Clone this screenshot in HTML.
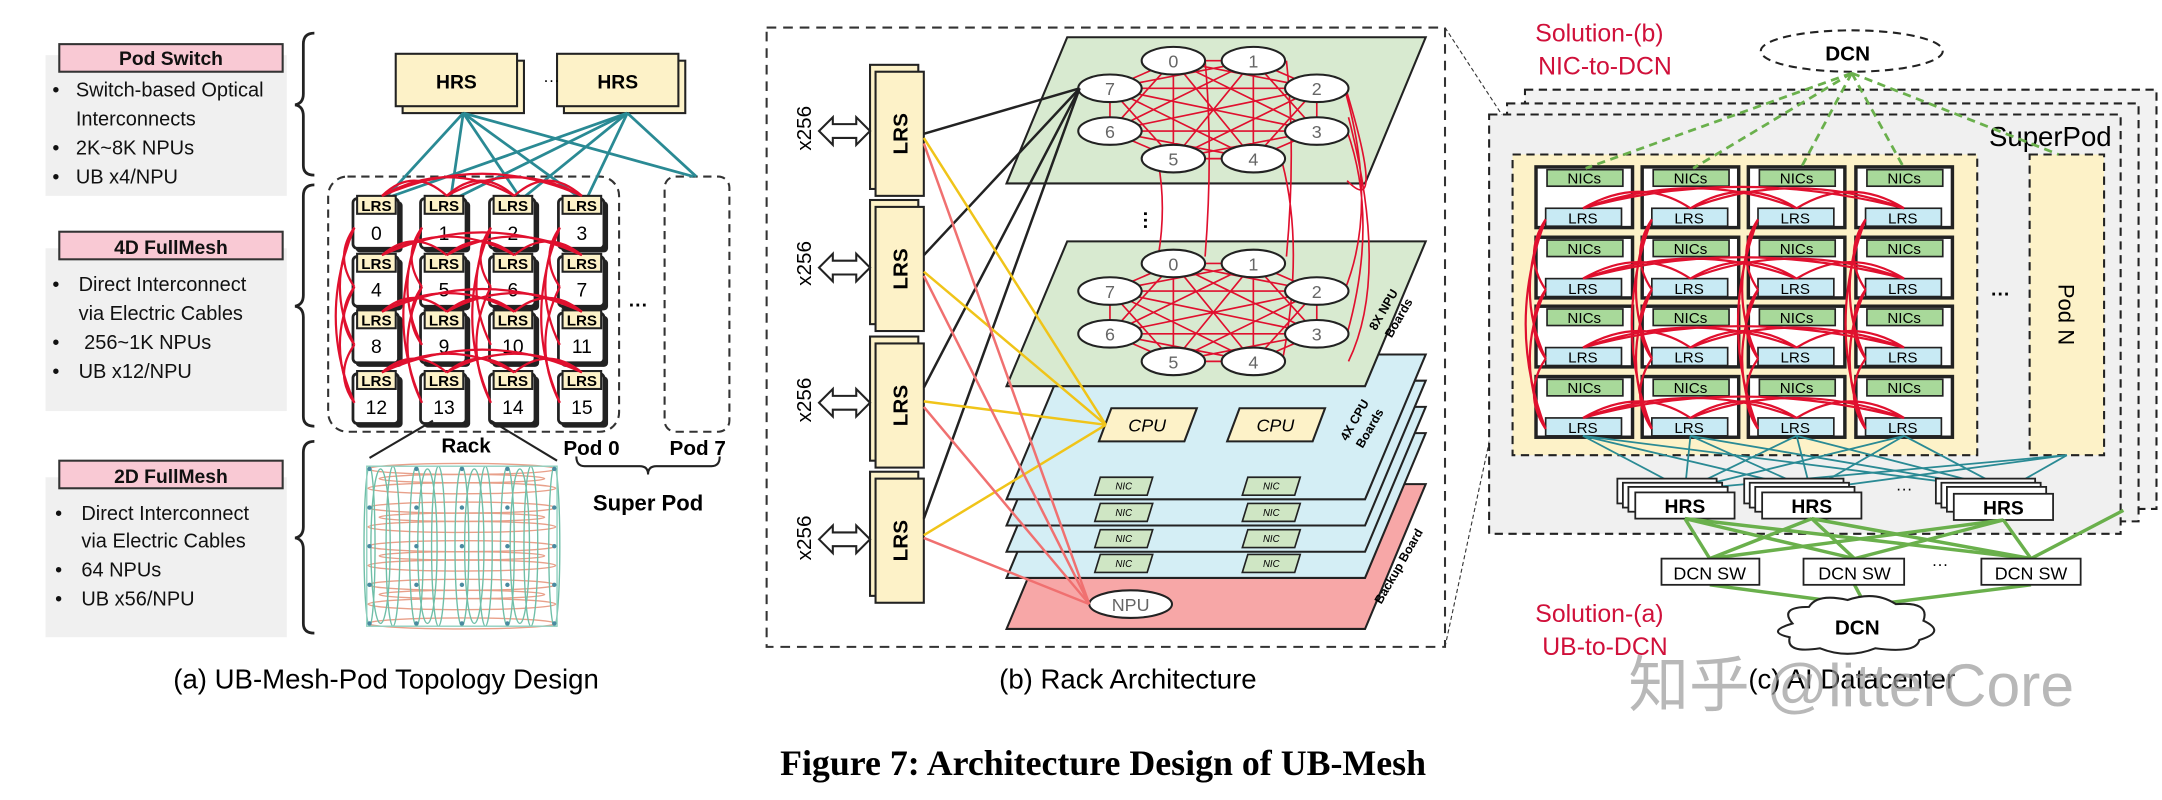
<!DOCTYPE html>
<html><head><meta charset="utf-8"><style>
html,body{margin:0;padding:0;background:#fff;}
svg{display:block;}
text{font-family:"Liberation Sans","Noto Sans CJK SC",sans-serif;}
</style></head><body>
<svg width="2162" height="800" viewBox="0 0 1568 580" preserveAspectRatio="none" xmlns="http://www.w3.org/2000/svg">
<!-- ============ PANEL A ============ -->
<g font-size="14.5" fill="#111">
<rect x="33" y="40" width="175" height="102" fill="#f0f0f0"/>
<rect x="43" y="32" width="162" height="20" fill="#f9c9d4" stroke="#333" stroke-width="1.5"/>
<text x="124" y="47" text-anchor="middle" font-weight="bold" font-size="14">Pod Switch</text>
<text x="38" y="70">•</text><text x="55" y="70">Switch-based Optical</text>
<text x="55" y="91">Interconnects</text>
<text x="38" y="112">•</text><text x="55" y="112">2K~8K NPUs</text>
<text x="38" y="133">•</text><text x="55" y="133">UB x4/NPU</text>

<rect x="33" y="180" width="175" height="118" fill="#f0f0f0"/>
<rect x="43" y="168" width="162" height="20" fill="#f9c9d4" stroke="#333" stroke-width="1.5"/>
<text x="124" y="184" text-anchor="middle" font-weight="bold" font-size="14">4D FullMesh</text>
<text x="38" y="211">•</text><text x="57" y="211">Direct Interconnect</text>
<text x="57" y="232">via Electric Cables</text>
<text x="38" y="253">•</text><text x="61" y="253">256~1K NPUs</text>
<text x="38" y="274">•</text><text x="57" y="274">UB x12/NPU</text>

<rect x="33" y="346" width="175" height="116" fill="#f0f0f0"/>
<rect x="43" y="334" width="162" height="20" fill="#f9c9d4" stroke="#333" stroke-width="1.5"/>
<text x="124" y="350" text-anchor="middle" font-weight="bold" font-size="14">2D FullMesh</text>
<text x="40" y="377">•</text><text x="59" y="377">Direct Interconnect</text>
<text x="59" y="397">via Electric Cables</text>
<text x="40" y="418">•</text><text x="59" y="418">64 NPUs</text>
<text x="40" y="439">•</text><text x="59" y="439">UB x56/NPU</text>
</g>
<!-- braces -->
<g fill="none" stroke="#222" stroke-width="2">
<path d="M228,24 Q220,24 220,32 L220,68 Q220,75 214,76 Q220,77 220,84 L220,120 Q220,127 228,127"/>
<path d="M228,134 Q220,134 220,142 L220,214 Q220,221 214,222 Q220,223 220,230 L220,302 Q220,309 228,309"/>
<path d="M228,320 Q220,320 220,328 L220,382 Q220,389 214,390 Q220,391 220,398 L220,452 Q220,459 228,459"/>
</g>
<!-- HRS -->
<g>
<rect x="292" y="44" width="88" height="38" fill="#fdf2c8" stroke="#222" stroke-width="1.5"/>
<rect x="287" y="39" width="88" height="38" fill="#fdf2c8" stroke="#222" stroke-width="1.5"/>
<text x="331" y="64" text-anchor="middle" font-weight="bold" font-size="14">HRS</text>
<rect x="409" y="44" width="88" height="38" fill="#fdf2c8" stroke="#222" stroke-width="1.5"/>
<rect x="404" y="39" width="88" height="38" fill="#fdf2c8" stroke="#222" stroke-width="1.5"/>
<text x="448" y="64" text-anchor="middle" font-weight="bold" font-size="14">HRS</text>
<text x="394" y="62" font-size="12">···</text>
</g>
<!-- pods dashed -->
<rect x="238" y="128" width="211" height="185" rx="14" fill="none" stroke="#333" stroke-width="1.5" stroke-dasharray="6,4"/>
<rect x="482" y="128" width="47" height="185" rx="8" fill="none" stroke="#333" stroke-width="1.5" stroke-dasharray="6,4"/>
<text x="456" y="226" font-size="14" font-weight="bold">···</text>
<!-- teal -->
<g stroke="#2a8a94" stroke-width="2">
<line x1="336" y1="82" x2="280" y2="143"/><line x1="336" y1="82" x2="327" y2="143"/><line x1="336" y1="82" x2="377" y2="143"/><line x1="336" y1="82" x2="420" y2="143"/><line x1="336" y1="82" x2="503" y2="128"/>
<line x1="455" y1="82" x2="282" y2="143"/><line x1="455" y1="82" x2="332" y2="143"/><line x1="455" y1="82" x2="380" y2="143"/><line x1="455" y1="82" x2="426" y2="143"/><line x1="455" y1="82" x2="505" y2="128"/>
</g>
<!-- LRS grid -->
<defs>
<g id="lrs">
<rect x="-15" y="0" width="34" height="37" rx="3" fill="#222"/>
<rect x="-17" y="-2" width="33" height="36" rx="3" fill="#fff" stroke="#222" stroke-width="2"/>
<rect x="-14" y="-4" width="28" height="13" fill="#fdf2c8" stroke="#222" stroke-width="1.5"/>
<text x="0" y="7" text-anchor="middle" font-weight="bold" font-size="11">LRS</text>
</g>
</defs>
<g font-size="14">
<use href="#lrs" x="273" y="146"/><text x="273" y="174" text-anchor="middle">0</text>
<use href="#lrs" x="322" y="146"/><text x="322" y="174" text-anchor="middle">1</text>
<use href="#lrs" x="372" y="146"/><text x="372" y="174" text-anchor="middle">2</text>
<use href="#lrs" x="422" y="146"/><text x="422" y="174" text-anchor="middle">3</text>
<use href="#lrs" x="273" y="188"/><text x="273" y="215" text-anchor="middle">4</text>
<use href="#lrs" x="322" y="188"/><text x="322" y="215" text-anchor="middle">5</text>
<use href="#lrs" x="372" y="188"/><text x="372" y="215" text-anchor="middle">6</text>
<use href="#lrs" x="422" y="188"/><text x="422" y="215" text-anchor="middle">7</text>
<use href="#lrs" x="273" y="229"/><text x="273" y="256" text-anchor="middle">8</text>
<use href="#lrs" x="322" y="229"/><text x="322" y="256" text-anchor="middle">9</text>
<use href="#lrs" x="372" y="229"/><text x="372" y="256" text-anchor="middle">10</text>
<use href="#lrs" x="422" y="229"/><text x="422" y="256" text-anchor="middle">11</text>
<use href="#lrs" x="273" y="273"/><text x="273" y="300" text-anchor="middle">12</text>
<use href="#lrs" x="322" y="273"/><text x="322" y="300" text-anchor="middle">13</text>
<use href="#lrs" x="372" y="273"/><text x="372" y="300" text-anchor="middle">14</text>
<use href="#lrs" x="422" y="273"/><text x="422" y="300" text-anchor="middle">15</text>
</g>
<!-- red curves A -->
<g fill="none" stroke="#e0102e" stroke-width="1.6">
<path d="M277,142 Q300,120 324,142"/><path d="M277,142 Q325,115 373,142"/><path d="M277,142 Q350,110 422,142"/><path d="M324,142 Q348,120 373,142"/><path d="M324,142 Q373,115 422,142"/><path d="M373,142 Q397,120 422,142"/>
<path d="M277,185 Q300,165 324,185"/><path d="M277,185 Q325,158 373,185"/><path d="M277,185 Q350,152 422,185"/><path d="M324,185 Q348,165 373,185"/><path d="M324,185 Q373,158 422,185"/><path d="M373,185 Q397,165 422,185"/>
<path d="M277,226 Q300,206 324,226"/><path d="M277,226 Q325,199 373,226"/><path d="M277,226 Q350,193 422,226"/><path d="M324,226 Q348,206 373,226"/><path d="M324,226 Q373,199 422,226"/><path d="M373,226 Q397,206 422,226"/>
<path d="M277,270 Q300,250 324,270"/><path d="M277,270 Q325,243 373,270"/><path d="M277,270 Q350,237 422,270"/><path d="M324,270 Q348,250 373,270"/><path d="M324,270 Q373,243 422,270"/><path d="M373,270 Q397,250 422,270"/>
<path d="M257,165 Q242,186 257,208"/><path d="M257,165 Q236,208 257,250"/><path d="M257,165 Q230,230 257,292"/><path d="M257,208 Q242,229 257,250"/><path d="M257,208 Q236,250 257,292"/><path d="M257,250 Q242,271 257,292"/>
<path d="M306,165 Q291,186 306,208"/><path d="M306,165 Q285,208 306,250"/><path d="M306,165 Q279,230 306,292"/><path d="M306,208 Q291,229 306,250"/><path d="M306,208 Q285,250 306,292"/>
<path d="M356,165 Q341,186 356,208"/><path d="M356,165 Q335,208 356,250"/><path d="M356,165 Q329,230 356,292"/><path d="M356,208 Q335,250 356,292"/>
<path d="M406,165 Q391,186 406,208"/><path d="M406,165 Q385,208 406,250"/><path d="M406,165 Q379,230 406,292"/><path d="M406,208 Q385,250 406,292"/>
</g>
<!-- labels below pod -->
<line x1="314" y1="305" x2="268" y2="332" stroke="#222" stroke-width="1.5"/>
<line x1="356" y1="305" x2="404" y2="334" stroke="#222" stroke-width="1.5"/>
<text x="338" y="328" text-anchor="middle" font-weight="bold" font-size="15">Rack</text>
<text x="429" y="330" text-anchor="middle" font-weight="bold" font-size="15">Pod 0</text>
<text x="506" y="330" text-anchor="middle" font-weight="bold" font-size="15">Pod 7</text>
<path d="M418,331 Q418,338 424,338 L464,338 Q470,338 470,344 Q470,338 476,338 L516,338 Q522,338 522,331" fill="none" stroke="#222" stroke-width="1.5"/>
<text x="470" y="370" text-anchor="middle" font-weight="bold" font-size="16">Super Pod</text>
<!-- 2D mesh -->
<g fill="none" stroke-width="1">
<g stroke="#e8a08a">
<ellipse cx="335" cy="340" rx="68" ry="4"/><ellipse cx="335" cy="354" rx="68" ry="4"/><ellipse cx="335" cy="368" rx="68" ry="4"/><ellipse cx="335" cy="382" rx="68" ry="4"/><ellipse cx="335" cy="396" rx="68" ry="4"/><ellipse cx="335" cy="410" rx="68" ry="4"/><ellipse cx="335" cy="424" rx="68" ry="4"/><ellipse cx="335" cy="438" rx="68" ry="4"/><ellipse cx="335" cy="452" rx="68" ry="4"/>
<ellipse cx="335" cy="347" rx="60" ry="3"/><ellipse cx="335" cy="375" rx="60" ry="3"/><ellipse cx="335" cy="403" rx="60" ry="3"/><ellipse cx="335" cy="431" rx="60" ry="3"/>
</g>
<g stroke="#6fbfa8">
<ellipse cx="268" cy="396" rx="4" ry="58"/><ellipse cx="285" cy="396" rx="5" ry="58"/><ellipse cx="302" cy="396" rx="5" ry="58"/><ellipse cx="318" cy="396" rx="5" ry="58"/><ellipse cx="335" cy="396" rx="5" ry="58"/><ellipse cx="352" cy="396" rx="5" ry="58"/><ellipse cx="368" cy="396" rx="5" ry="58"/><ellipse cx="385" cy="396" rx="5" ry="58"/><ellipse cx="402" cy="396" rx="4" ry="58"/>
<ellipse cx="276" cy="396" rx="7" ry="56"/><ellipse cx="310" cy="396" rx="7" ry="56"/><ellipse cx="344" cy="396" rx="7" ry="56"/><ellipse cx="377" cy="396" rx="7" ry="56"/>
<rect x="266" y="338" width="138" height="116" stroke="#8fd0bf"/>
</g>
</g>
<g fill="#4a8aa0">
<circle cx="268" cy="340" r="1.6"/><circle cx="302" cy="340" r="1.6"/><circle cx="335" cy="340" r="1.6"/><circle cx="368" cy="340" r="1.6"/><circle cx="402" cy="340" r="1.6"/>
<circle cx="268" cy="368" r="1.6"/><circle cx="302" cy="368" r="1.6"/><circle cx="335" cy="368" r="1.6"/><circle cx="368" cy="368" r="1.6"/><circle cx="402" cy="368" r="1.6"/>
<circle cx="268" cy="396" r="1.6"/><circle cx="302" cy="396" r="1.6"/><circle cx="335" cy="396" r="1.6"/><circle cx="368" cy="396" r="1.6"/><circle cx="402" cy="396" r="1.6"/>
<circle cx="268" cy="424" r="1.6"/><circle cx="302" cy="424" r="1.6"/><circle cx="335" cy="424" r="1.6"/><circle cx="368" cy="424" r="1.6"/><circle cx="402" cy="424" r="1.6"/>
<circle cx="268" cy="452" r="1.6"/><circle cx="302" cy="452" r="1.6"/><circle cx="335" cy="452" r="1.6"/><circle cx="368" cy="452" r="1.6"/><circle cx="402" cy="452" r="1.6"/>
</g>
<text x="280" y="499" text-anchor="middle" font-size="20">(a) UB-Mesh-Pod Topology Design</text>

<!-- ============ PANEL B ============ -->
<rect x="556" y="20" width="492" height="449" fill="none" stroke="#333" stroke-width="1.5" stroke-dasharray="7,5"/>
<g>
<rect x="631" y="47" width="35" height="90" fill="#fdf2c8" stroke="#222" stroke-width="1.5"/>
<rect x="635" y="52" width="35" height="90" fill="#fdf2c8" stroke="#222" stroke-width="1.5"/>
<rect x="631" y="145" width="35" height="90" fill="#fdf2c8" stroke="#222" stroke-width="1.5"/>
<rect x="635" y="150" width="35" height="90" fill="#fdf2c8" stroke="#222" stroke-width="1.5"/>
<rect x="631" y="244" width="35" height="90" fill="#fdf2c8" stroke="#222" stroke-width="1.5"/>
<rect x="635" y="249" width="35" height="90" fill="#fdf2c8" stroke="#222" stroke-width="1.5"/>
<rect x="631" y="342" width="35" height="90" fill="#fdf2c8" stroke="#222" stroke-width="1.5"/>
<rect x="635" y="347" width="35" height="90" fill="#fdf2c8" stroke="#222" stroke-width="1.5"/>
<g font-weight="bold" font-size="15">
<text transform="translate(658,97) rotate(-90)" text-anchor="middle">LRS</text>
<text transform="translate(658,195) rotate(-90)" text-anchor="middle">LRS</text>
<text transform="translate(658,294) rotate(-90)" text-anchor="middle">LRS</text>
<text transform="translate(658,392) rotate(-90)" text-anchor="middle">LRS</text>
</g>
<g font-size="15">
<text transform="translate(588,93) rotate(-90)" text-anchor="middle">x256</text>
<text transform="translate(588,191) rotate(-90)" text-anchor="middle">x256</text>
<text transform="translate(588,290) rotate(-90)" text-anchor="middle">x256</text>
<text transform="translate(588,390) rotate(-90)" text-anchor="middle">x256</text>
</g>
<g fill="#fff" stroke="#222" stroke-width="1.5">
<path d="M594,95 L604,85 L604,90 L621,90 L621,85 L631,95 L621,105 L621,100 L604,100 L604,105 Z"/>
<path d="M594,194 L604,184 L604,189 L621,189 L621,184 L631,194 L621,204 L621,199 L604,199 L604,204 Z"/>
<path d="M594,292 L604,282 L604,287 L621,287 L621,282 L631,292 L621,302 L621,297 L604,297 L604,302 Z"/>
<path d="M594,391 L604,381 L604,386 L621,386 L621,381 L631,391 L621,401 L621,396 L604,396 L604,401 Z"/>
</g>
</g>
<!-- boards (back to front) -->
<g stroke="#222" stroke-width="1.5">
<polygon points="730,456 774,351 1034,351 990,456" fill="#f7a7a7"/>
<polygon points="730,419 774,314 1034,314 990,419" fill="#d4eef5"/>
<polygon points="730,400 774,295 1034,295 990,400" fill="#d4eef5"/>
<polygon points="730,381 774,276 1034,276 990,381" fill="#d4eef5"/>
<polygon points="730,362 774,257 1034,257 990,362" fill="#d4eef5"/>
<polygon points="730,280 774,175 1034,175 990,280" fill="#d8ead0"/>
<polygon points="730,133 774,27 1034,27 990,133" fill="#d8ead0"/>
</g>
<!-- CPUs, NICs -->
<g stroke="#222" stroke-width="1.5">
<polygon points="797,320 806,296 868,296 859,320" fill="#fdf2c8"/>
<polygon points="890,320 899,296 961,296 952,320" fill="#fdf2c8"/>
<g fill="#cfe6c4" stroke-width="1.2">
<polygon points="794,359 798,346 836,346 832,359"/><polygon points="901,359 905,346 943,346 939,359"/>
<polygon points="794,378 798,365 836,365 832,378"/><polygon points="901,378 905,365 943,365 939,378"/>
<polygon points="794,397 798,384 836,384 832,397"/><polygon points="901,397 905,384 943,384 939,397"/>
<polygon points="794,415 798,402 836,402 832,415"/><polygon points="901,415 905,402 943,402 939,415"/>
</g>
</g>
<g font-size="13" font-style="italic" text-anchor="middle"><text x="832" y="313">CPU</text><text x="925" y="313">CPU</text></g>
<g font-size="7" font-style="italic" text-anchor="middle">
<text x="815" y="355">NIC</text><text x="922" y="355">NIC</text><text x="815" y="374">NIC</text><text x="922" y="374">NIC</text>
<text x="815" y="393">NIC</text><text x="922" y="393">NIC</text><text x="815" y="411">NIC</text><text x="922" y="411">NIC</text>
</g>
<g font-weight="bold" font-size="9" text-anchor="middle">
<text transform="translate(1006,226) rotate(-60)">8X NPU</text><text transform="translate(1017,232) rotate(-60)">Boards</text>
<text transform="translate(985,306) rotate(-60)">4X CPU</text><text transform="translate(996,312) rotate(-60)">Boards</text>
<text transform="translate(1017,412) rotate(-60)">Backup Board</text>
</g>
<!-- red mesh edges -->
<g stroke="#e0102e" stroke-width="1.2" fill="none">
<path d="M851,44 L909,44 L955,64 L955,95 L909,115 L851,115 L805,95 L805,64 Z M851,44 L955,64 M851,44 L955,95 M851,44 L909,115 M851,44 L851,115 M851,44 L805,95 M909,44 L955,95 M909,44 L909,115 M909,44 L851,115 M909,44 L805,95 M909,44 L805,64 M955,64 L909,115 M955,64 L851,115 M955,64 L805,95 M955,64 L805,64 M955,95 L851,115 M955,95 L805,95 M955,95 L805,64 M909,115 L805,95 M909,115 L805,64 M851,115 L805,64 M828,64 L932,64 M828,95 L932,95"/>
<path transform="translate(0,147)" d="M851,44 L909,44 L955,64 L955,95 L909,115 L851,115 L805,95 L805,64 Z M851,44 L955,64 M851,44 L955,95 M851,44 L909,115 M851,44 L851,115 M851,44 L805,95 M909,44 L955,95 M909,44 L909,115 M909,44 L851,115 M909,44 L805,95 M909,44 L805,64 M955,64 L909,115 M955,64 L851,115 M955,64 L805,95 M955,64 L805,64 M955,95 L851,115 M955,95 L805,95 M955,95 L805,64 M909,115 L805,95 M909,115 L805,64 M851,115 L805,64 M828,64 L932,64 M828,95 L932,95"/>
<path d="M840,118 Q846,150 840,186 M874,44 Q880,110 874,186 M933,44 Q940,110 933,186 M930,118 Q946,180 930,262 M975,64 Q1000,150 975,211 M977,95 Q1000,160 977,242 M976,64 Q1005,160 977,131 M978,85 Q1008,200 978,262"/>
</g>
<!-- ellipses -->
<g fill="#fff" stroke="#222" stroke-width="1.5">
<ellipse cx="851" cy="44" rx="23" ry="10"/><ellipse cx="909" cy="44" rx="23" ry="10"/><ellipse cx="805" cy="64" rx="23" ry="10"/><ellipse cx="955" cy="64" rx="23" ry="10"/><ellipse cx="805" cy="95" rx="23" ry="10"/><ellipse cx="955" cy="95" rx="23" ry="10"/><ellipse cx="851" cy="115" rx="23" ry="10"/><ellipse cx="909" cy="115" rx="23" ry="10"/>
<ellipse cx="851" cy="191" rx="23" ry="10"/><ellipse cx="909" cy="191" rx="23" ry="10"/><ellipse cx="805" cy="211" rx="23" ry="10"/><ellipse cx="955" cy="211" rx="23" ry="10"/><ellipse cx="805" cy="242" rx="23" ry="10"/><ellipse cx="955" cy="242" rx="23" ry="10"/><ellipse cx="851" cy="262" rx="23" ry="10"/><ellipse cx="909" cy="262" rx="23" ry="10"/>
<ellipse cx="820" cy="438" rx="30" ry="10"/>
</g>
<g font-size="13" fill="#666" text-anchor="middle">
<text x="851" y="49">0</text><text x="909" y="49">1</text><text x="805" y="69">7</text><text x="955" y="69">2</text><text x="805" y="100">6</text><text x="955" y="100">3</text><text x="851" y="120">5</text><text x="909" y="120">4</text>
<text x="851" y="196">0</text><text x="909" y="196">1</text><text x="805" y="216">7</text><text x="955" y="216">2</text><text x="805" y="247">6</text><text x="955" y="247">3</text><text x="851" y="267">5</text><text x="909" y="267">4</text>
<text x="820" y="443">NPU</text>
</g>
<text x="826" y="160" font-size="14" font-weight="bold" transform="rotate(90,826,160)" text-anchor="middle">···</text>
<!-- LRS links -->
<g stroke-width="1.8">
<g stroke="#222"><line x1="670" y1="97" x2="783" y2="64"/><line x1="670" y1="185" x2="783" y2="64"/><line x1="670" y1="281" x2="783" y2="64"/><line x1="670" y1="376" x2="783" y2="64"/></g>
<g stroke="#f0c419"><line x1="670" y1="100" x2="802" y2="308"/><line x1="670" y1="197" x2="802" y2="308"/><line x1="670" y1="291" x2="802" y2="308"/><line x1="670" y1="388" x2="802" y2="308"/></g>
<g stroke="#f07070"><line x1="670" y1="104" x2="790" y2="438"/><line x1="670" y1="200" x2="790" y2="438"/><line x1="670" y1="295" x2="790" y2="438"/><line x1="670" y1="390" x2="790" y2="438"/></g>
</g>
<text x="818" y="499" text-anchor="middle" font-size="20">(b) Rack  Architecture</text>
<text x="800" y="562" text-anchor="middle" font-size="26" font-weight="bold" style="font-family:'Liberation Serif','DejaVu Serif',serif">Figure 7:  Architecture Design of UB-Mesh</text>

<!-- ============ PANEL C ============ -->
<g stroke="#333" stroke-width="0.8" stroke-dasharray="3,2"><line x1="1048" y1="20" x2="1112" y2="118"/><line x1="1048" y1="469" x2="1100" y2="228"/></g>
<text x="1160" y="30" text-anchor="middle" font-size="18" fill="#d0103a">Solution-(b)</text>
<text x="1164" y="54" text-anchor="middle" font-size="18" fill="#d0103a">NIC-to-DCN</text>
<g stroke="#222" stroke-width="1.5" stroke-dasharray="6,4">
<rect x="1106" y="65" width="458" height="304" fill="#f2f2f2"/>
<rect x="1093" y="75" width="458" height="303" fill="#f2f2f2"/>
<rect x="1080" y="83" width="458" height="304" fill="#f0f0f0"/>
</g>
<ellipse cx="1343" cy="37" rx="66" ry="15" fill="#fff" stroke="#222" stroke-width="1.5" stroke-dasharray="6,4"/>
<text x="1340" y="44" text-anchor="middle" font-weight="bold" font-size="15">DCN</text>
<text x="1487" y="106" text-anchor="middle" font-size="20">SuperPod</text>
<rect x="1097" y="112" width="337" height="218" fill="#fdf2c8" stroke="#222" stroke-width="1.5" stroke-dasharray="6,4"/>
<rect x="1472" y="112" width="54" height="218" fill="#fdf2c8" stroke="#222" stroke-width="1.5" stroke-dasharray="6,4"/>
<text transform="translate(1493,228) rotate(90)" text-anchor="middle" font-size="16">Pod N</text>
<text x="1451" y="218" text-anchor="middle" font-size="14" font-weight="bold">···</text>
<defs>
<g id="cell">
<rect x="0" y="0" width="70" height="44" fill="#fff" stroke="#222" stroke-width="2.5"/>
<rect x="8" y="2" width="55" height="12" fill="#a8d99a" stroke="#222" stroke-width="1.2"/>
<text x="35" y="12" text-anchor="middle" font-size="11">NICs</text>
<rect x="7" y="30" width="55" height="13" fill="#c8eaf4" stroke="#222" stroke-width="1.2"/>
<text x="34" y="41" text-anchor="middle" font-size="11">LRS</text>
</g>
</defs>
<use href="#cell" x="1114" y="121"/><use href="#cell" x="1191" y="121"/><use href="#cell" x="1268" y="121"/><use href="#cell" x="1346" y="121"/>
<use href="#cell" x="1114" y="172"/><use href="#cell" x="1191" y="172"/><use href="#cell" x="1268" y="172"/><use href="#cell" x="1346" y="172"/>
<use href="#cell" x="1114" y="222"/><use href="#cell" x="1191" y="222"/><use href="#cell" x="1268" y="222"/><use href="#cell" x="1346" y="222"/>
<use href="#cell" x="1114" y="273"/><use href="#cell" x="1191" y="273"/><use href="#cell" x="1268" y="273"/><use href="#cell" x="1346" y="273"/>
<!-- red arcs C -->
<g fill="none" stroke="#e0102e" stroke-width="1.6">
<path d="M1148,151 Q1190,127 1226,151 M1148,151 Q1230,122 1303,151 M1148,151 Q1260,120 1381,151 M1226,151 Q1265,127 1303,151 M1226,151 Q1300,122 1381,151 M1303,151 Q1342,127 1381,151"/>
<path transform="translate(0,51)" d="M1148,151 Q1190,127 1226,151 M1148,151 Q1230,122 1303,151 M1148,151 Q1260,120 1381,151 M1226,151 Q1265,127 1303,151 M1226,151 Q1300,122 1381,151 M1303,151 Q1342,127 1381,151"/>
<path transform="translate(0,101)" d="M1148,151 Q1190,127 1226,151 M1148,151 Q1230,122 1303,151 M1148,151 Q1260,120 1381,151 M1226,151 Q1265,127 1303,151 M1226,151 Q1300,122 1381,151 M1303,151 Q1342,127 1381,151"/>
<path transform="translate(0,152)" d="M1148,151 Q1190,127 1226,151 M1148,151 Q1230,122 1303,151 M1148,151 Q1260,120 1381,151 M1226,151 Q1265,127 1303,151 M1226,151 Q1300,122 1381,151 M1303,151 Q1342,127 1381,151"/>
<path d="M1121,159 Q1104,185 1121,210 M1121,159 Q1098,210 1121,260 M1121,159 Q1092,235 1121,311 M1121,210 Q1104,235 1121,260 M1121,210 Q1098,260 1121,311 M1121,260 Q1104,285 1121,311"/>
<path transform="translate(77,0)" d="M1121,159 Q1104,185 1121,210 M1121,159 Q1098,210 1121,260 M1121,159 Q1092,235 1121,311 M1121,210 Q1104,235 1121,260 M1121,210 Q1098,260 1121,311 M1121,260 Q1104,285 1121,311"/>
<path transform="translate(154,0)" d="M1121,159 Q1104,185 1121,210 M1121,159 Q1098,210 1121,260 M1121,159 Q1092,235 1121,311 M1121,210 Q1104,235 1121,260 M1121,210 Q1098,260 1121,311 M1121,260 Q1104,285 1121,311"/>
<path transform="translate(232,0)" d="M1121,159 Q1104,185 1121,210 M1121,159 Q1098,210 1121,260 M1121,159 Q1092,235 1121,311 M1121,210 Q1104,235 1121,260 M1121,210 Q1098,260 1121,311 M1121,260 Q1104,285 1121,311"/>
</g>
<!-- green dashed -->
<g stroke="#6ab04c" stroke-width="2" stroke-dasharray="6,4">
<line x1="1343" y1="53" x2="1150" y2="122"/><line x1="1343" y1="53" x2="1228" y2="122"/><line x1="1343" y1="53" x2="1306" y2="122"/><line x1="1343" y1="53" x2="1381" y2="122"/><line x1="1343" y1="53" x2="1493" y2="112"/>
</g>
<!-- teal C -->
<g stroke="#2a8a94" stroke-width="1.3">
<line x1="1148" y1="316" x2="1222" y2="355"/><line x1="1148" y1="316" x2="1313" y2="355"/><line x1="1148" y1="316" x2="1455" y2="355"/>
<line x1="1226" y1="316" x2="1222" y2="355"/><line x1="1226" y1="316" x2="1313" y2="355"/><line x1="1226" y1="316" x2="1455" y2="355"/>
<line x1="1303" y1="316" x2="1222" y2="355"/><line x1="1303" y1="316" x2="1313" y2="355"/><line x1="1303" y1="316" x2="1455" y2="355"/>
<line x1="1381" y1="316" x2="1222" y2="355"/><line x1="1381" y1="316" x2="1313" y2="355"/><line x1="1381" y1="316" x2="1455" y2="355"/>
<line x1="1499" y1="330" x2="1222" y2="355"/><line x1="1499" y1="330" x2="1313" y2="355"/><line x1="1499" y1="330" x2="1455" y2="355"/>
</g>
<!-- HRS stacks -->
<g fill="#fff" stroke="#222" stroke-width="1.3">
<rect x="1173" y="347" width="72" height="18"/><rect x="1177" y="350" width="72" height="18"/><rect x="1181" y="353" width="72" height="18"/><rect x="1186" y="357" width="72" height="19"/>
<rect x="1265" y="347" width="72" height="18"/><rect x="1269" y="350" width="72" height="18"/><rect x="1273" y="353" width="72" height="18"/><rect x="1278" y="357" width="72" height="19"/>
<rect x="1404" y="347" width="72" height="18"/><rect x="1408" y="350" width="72" height="18"/><rect x="1412" y="353" width="72" height="18"/><rect x="1417" y="358" width="72" height="19"/>
</g>
<g font-weight="bold" font-size="14" text-anchor="middle"><text x="1222" y="372">HRS</text><text x="1314" y="372">HRS</text><text x="1453" y="373">HRS</text></g>
<text x="1381" y="358" text-anchor="middle" font-size="12">···</text>
<!-- green solid -->
<g stroke="#6ab04c" stroke-width="2.5">
<line x1="1222" y1="376" x2="1240" y2="405"/><line x1="1222" y1="376" x2="1345" y2="405"/><line x1="1222" y1="376" x2="1473" y2="405"/>
<line x1="1314" y1="376" x2="1240" y2="405"/><line x1="1314" y1="376" x2="1345" y2="405"/><line x1="1314" y1="376" x2="1473" y2="405"/>
<line x1="1453" y1="377" x2="1240" y2="405"/><line x1="1453" y1="377" x2="1345" y2="405"/><line x1="1453" y1="377" x2="1473" y2="405"/>
<line x1="1473" y1="405" x2="1540" y2="370"/>
<line x1="1240" y1="424" x2="1353" y2="439"/><line x1="1345" y1="424" x2="1353" y2="439"/><line x1="1473" y1="424" x2="1353" y2="439"/>
</g>
<g fill="#fff" stroke="#222" stroke-width="1.3">
<rect x="1205" y="405" width="71" height="19"/><rect x="1308" y="405" width="73" height="19"/><rect x="1437" y="405" width="72" height="19"/>
</g>
<g font-size="13" text-anchor="middle"><text x="1240" y="420">DCN SW</text><text x="1345" y="420">DCN SW</text><text x="1473" y="420">DCN SW</text></g>
<text x="1407" y="413" text-anchor="middle" font-size="12">···</text>
<path d="M1300,452 Q1290,440 1312,440 Q1318,430 1340,435 Q1360,428 1375,438 Q1400,436 1395,450 Q1412,458 1392,464 Q1390,474 1360,470 Q1340,478 1320,470 Q1295,474 1298,462 Q1280,458 1300,452 Z" fill="#fff" stroke="#222" stroke-width="1.5"/>
<text x="1347" y="460" text-anchor="middle" font-weight="bold" font-size="15">DCN</text>
<text x="1160" y="451" text-anchor="middle" font-size="18" fill="#d0103a">Solution-(a)</text>
<text x="1164" y="475" text-anchor="middle" font-size="18" fill="#d0103a">UB-to-DCN</text>
<text x="1343" y="499" text-anchor="middle" font-size="20">(c) AI Datacenter</text>
<text x="1181" y="512" font-size="44" fill="#9a9a9a" fill-opacity="0.7">知乎 @litterCore</text>
</svg>
</body></html>
